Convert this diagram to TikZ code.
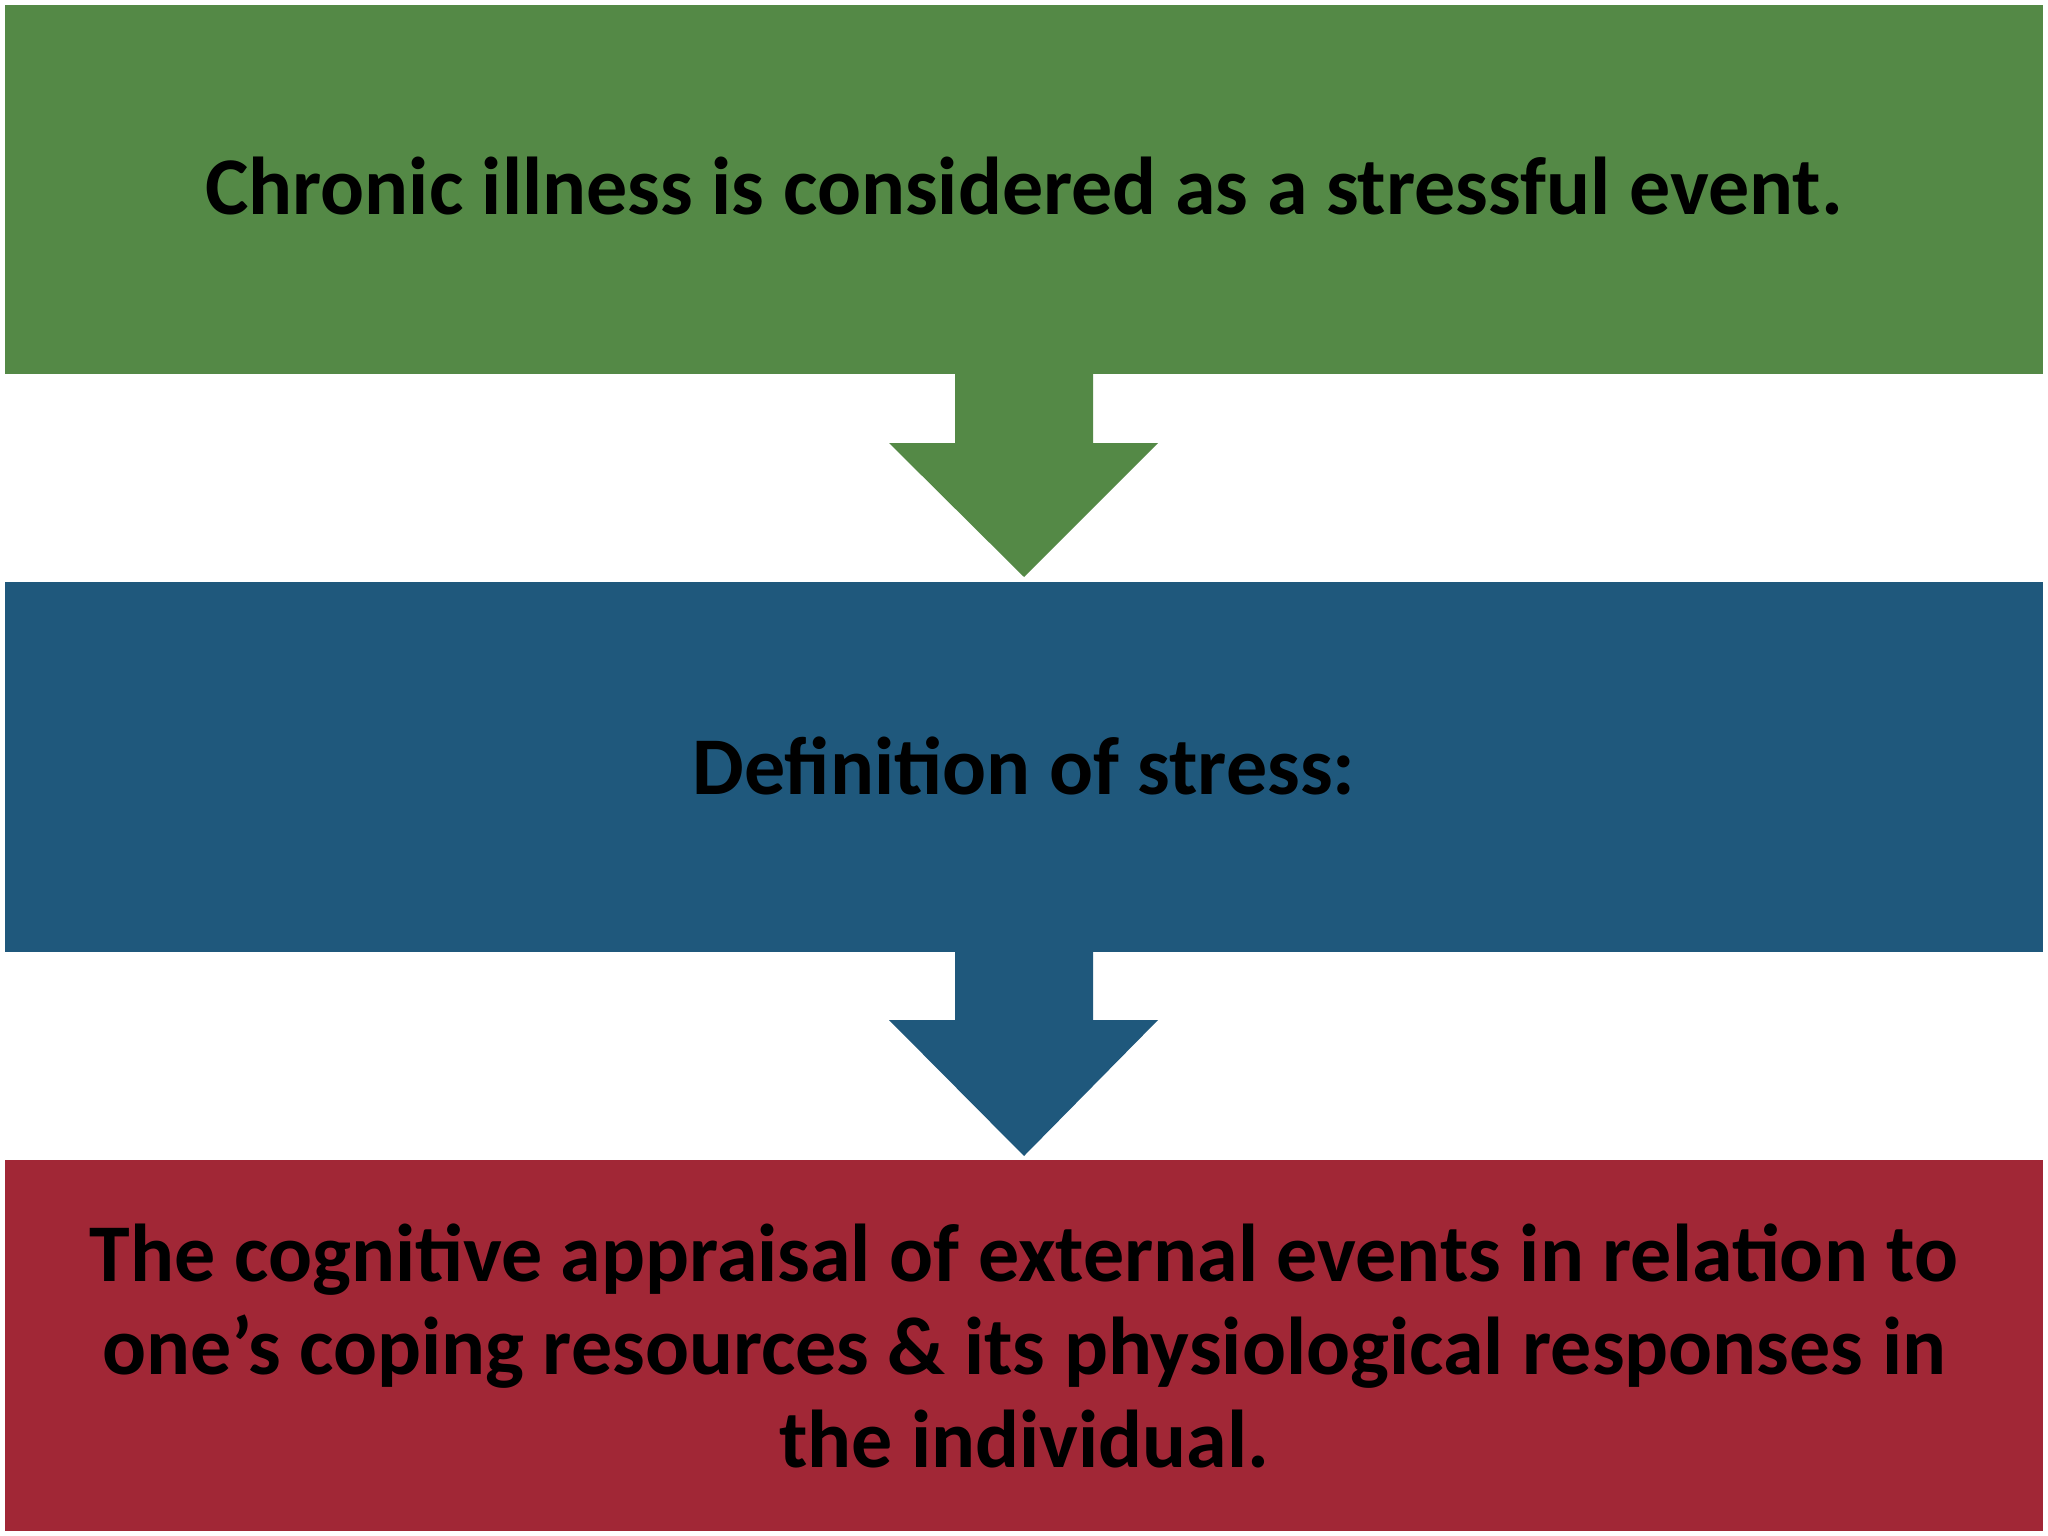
\documentclass[tikz,border=0pt]{standalone}
\usepackage{fontspec}
\setmainfont{Carlito}
\definecolor{cg}{HTML}{548946}
\definecolor{cb}{HTML}{1F587C}
\definecolor{cr}{HTML}{A12736}
\begin{document}
\begin{tikzpicture}[x=1pt,y=-1pt,
  txt/.style={font=\fontsize{82}{93}\selectfont\bfseries,align=center}]
\useasboundingbox (0,0) rectangle (2048,1536);
\fill[white] (0,0) rectangle (2048,1536);
\fill[cg] (955,370) -- (1093,370) -- (1093,443) -- (1158,443) -- (1024,577) -- (889,443) -- (955,443) -- cycle;
\fill[cb] (955,950) -- (1093,950) -- (1093,1020) -- (1158,1020) -- (1024,1156) -- (889,1020) -- (955,1020) -- cycle;
\fill[cg] (5,5) rectangle (2043,374);
\fill[cb] (5,582) rectangle (2043,952);
\fill[cr] (5,1160) rectangle (2043,1531);
\node[txt] (a) at (1024,186) {Chronic illness is considered as a stressful event.};
\node[txt] (b) at (1024,766) {Definition of stress:};
\node[txt] (c) at (1024,1346) {The cognitive appraisal of external events in relation to\\one’s coping resources \& its physiological responses in\\the individual.};
\end{tikzpicture}
\end{document}
